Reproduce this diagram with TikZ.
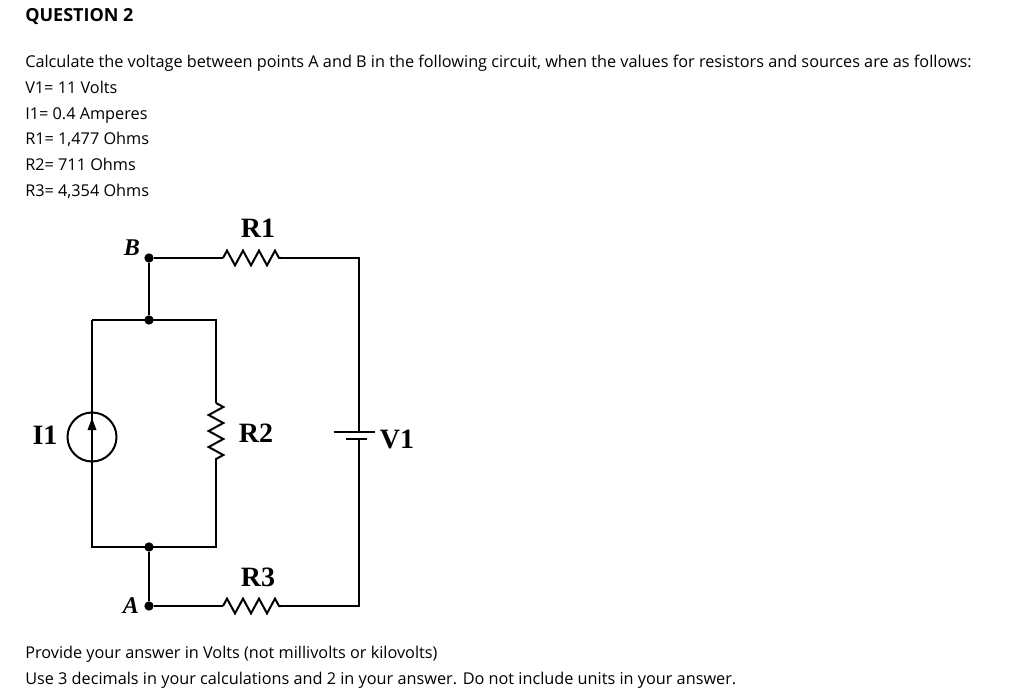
\documentclass[tikz,border=0pt]{standalone}
\usepackage{fontspec}
\setmainfont{Open Sans}
\newfontfamily\cfont{Liberation Serif}
\usetikzlibrary{decorations.pathmorphing,arrows.meta}
\begin{document}
\begin{tikzpicture}[x=0.75pt,y=-0.75pt,
  txt/.style={anchor=base west,inner sep=0,font=\fontsize{12.2pt}{14pt}\selectfont},
  lab/.style={font=\cfont\bfseries\fontsize{21pt}{22pt}\selectfont,inner sep=0},
  wire/.style={line width=1.5pt},
  res/.style={wire,decoration={zigzag,segment length=12,amplitude=5.5},decorate},
  dot/.style={circle,fill,inner sep=0,minimum size=7pt}]
\useasboundingbox (0,0) rectangle (1024,698);
\node[txt,font=\bfseries\fontsize{13.5pt}{15pt}\selectfont] (q) at (25,22) {QUESTION 2};
\node[txt] (t1) at (25,68) {Calculate the voltage between points A and B in the following circuit, when the values for resistors and sources are as follows:};
\node[txt] (t2) at (25,94) {V1= 11 Volts};
\node[txt] (t3) at (25,120) {I1= 0.4 Amperes};
\node[txt] (t4) at (25,145) {R1= 1,477 Ohms};
\node[txt] (t5) at (25,171) {R2= 711 Ohms};
\node[txt] (t6) at (25,197) {R3= 4,354 Ohms};
\node[txt] (t7) at (25,658) {Provide your answer in Volts (not millivolts or kilovolts)};
\node[txt] (t8) at (25,684) {Use 3 decimals in your calculations and 2 in your answer. Do not include units in your answer.};
% circuit
\node[dot] (B) at (149,258) {};
\node[dot] (J1) at (149,320) {};
\node[dot] (J2) at (149,547) {};
\node[dot] (A) at (149,606) {};
\coordinate (r1a) at (223,258); \coordinate (r1b) at (281,258);
\coordinate (TR) at (359,258); \coordinate (BR) at (359,606);
\coordinate (r3a) at (223,606); \coordinate (r3b) at (281,606);
\coordinate (r2a) at (216,403); \coordinate (r2b) at (216,460);
\coordinate (TL) at (92,320); \coordinate (BL) at (92,547);
\coordinate (TM) at (216,320); \coordinate (BM) at (216,547);
\coordinate (v1) at (359,432); \coordinate (v2) at (359,439);
\coordinate (ah) at (92,418);
\draw[wire] (92,437) circle[radius=24.5];
\node[inner sep=0] (I1) at (92,437) {};
\draw[wire] (B) -- (r1a);
\draw[res] (r1a) -- (r1b);
\draw[wire] (r1b) -- (TR) -- (v1);
\draw[wire] (v2) -- (BR) -- (r3b);
\draw[res] (r3a) -- (r3b);
\draw[wire] (r3a) -- (A) -- (J2);
\draw[wire] (B) -- (J1);
\draw[wire] (TL) -- (TM) -- (r2a);
\draw[res] (r2a) -- (r2b);
\draw[wire] (r2b) -- (BM) -- (BL) -- (TL);
\fill (90.8,425) rectangle (93.2,462);
\fill (ah) -- ++(-4.5,12) -- ++(9,0) -- cycle;
\draw[wire] ([xshift=-19pt]v1) -- ([xshift=12pt]v1);
\draw[wire] ([xshift=-10pt]v2) -- ([xshift=6pt]v2);
\node[lab] (lR1) at (258,228) {R1};
\node[lab] (lR2) at (256,433) {R2};
\node[lab] (lR3) at (258,577) {R3};
\node[lab] (lV1) at (397,439) {V1};
\node[lab] (lI1) at (45,435) {I1};
\node[lab,font=\cfont\bfseries\itshape\fontsize{18pt}{20pt}\selectfont] (lB) at (132,248) {B};
\node[lab,font=\cfont\bfseries\itshape\fontsize{18pt}{20pt}\selectfont] (lA) at (131,606) {A};
\end{tikzpicture}
\end{document}
